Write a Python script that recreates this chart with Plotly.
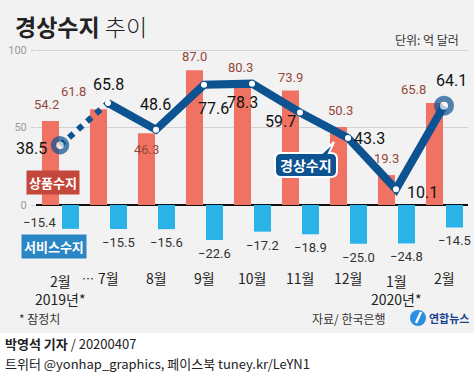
import plotly.graph_objects as go

# ---------------- data ----------------
months = ["2월", "7월", "8월", "9월", "10월", "11월", "12월", "1월", "2월"]
years = ["2019년*", "", "", "", "", "", "", "2020년*", ""]
goods = [54.2, 61.8, 46.3, 87.0, 80.3, 73.9, 50.3, 19.3, 65.8]          # 상품수지
services = [-15.4, -15.5, -15.6, -22.6, -17.2, -18.9, -25.0, -24.8, -14.5]  # 서비스수지
current = [38.5, 65.8, 48.6, 77.6, 78.3, 59.7, 43.3, 10.1, 64.1]        # 경상수지
y_ticks = [0, 50, 100]

# ---------------- style ----------------
W, H = 474, 381
ML, MR, MT, MB = 36, 6, 48, 128
PW, PH = W - ML - MR, H - MT - MB
SCALE, Y0PX = 1.55, 205          # px per unit, pixel row of zero line
Y_MAX = (Y0PX - MT) / SCALE
Y_MIN = -(H - MB - Y0PX) / SCALE
KR = "Noto Sans CJK KR"
NUM = "Roboto"
RED = "#f07262"
BLUE_BAR = "#2ab3e8"
LINE = "#0d5291"
BG = "#f2f2f2"

def px(x):
    return (x - ML) / PW

def py(y):
    return (MT + PH - y) / PH

idx = list(range(len(months)))

fig = go.Figure()
fig.add_trace(go.Bar(x=idx, y=goods, width=0.354, offset=-0.375,
                     marker=dict(color=RED, line=dict(width=0)), hoverinfo="skip"))
fig.add_trace(go.Bar(x=idx, y=services, width=0.354, offset=0.042,
                     marker=dict(color=BLUE_BAR, line=dict(width=0)), hoverinfo="skip"))
# dotted part (provisional first point)
fig.add_trace(go.Scatter(x=idx[:2], y=current[:2], mode="lines",
                         line=dict(color=LINE, width=6, dash="dot"), hoverinfo="skip"))
# solid part
fig.add_trace(go.Scatter(x=idx[1:], y=current[1:], mode="lines",
                         line=dict(color=LINE, width=8), hoverinfo="skip"))
# small white dots
fig.add_trace(go.Scatter(x=idx[1:-1], y=current[1:-1], mode="markers",
                         marker=dict(color="white", size=6, line=dict(width=0)), hoverinfo="skip"))
# end rings
fig.add_trace(go.Scatter(x=[idx[0], idx[-1]], y=[current[0], current[-1]], mode="markers",
                         marker=dict(color="white", size=[13, 14], line=dict(color=LINE, width=[5.5, 6])),
                         hoverinfo="skip"))

ann = []
# current account labels: (xanchor, yanchor, xshift, yshift)
cur_off = [("right", "middle", -11, -3), ("center", "bottom", 0, 7), ("center", "bottom", -1, 14),
           ("center", "top", 9, -12), ("center", "top", -10, -7), ("right", "middle", -2, -9),
           ("left", "middle", 4, -1), ("left", "middle", 9, -3), ("center", "bottom", 7, 14)]
for i, v in enumerate(current):
    xa, ya, xs, ys = cur_off[i]
    ann.append(dict(x=i, y=v, text=f"{v:.1f}", showarrow=False, xanchor=xa, yanchor=ya,
                    xshift=xs, yshift=ys, font=dict(family=NUM, size=16, color="#111")))
# goods labels
g_off = [("center", "bottom", -4, 7), ("right", "bottom", -11, 8), ("center", "top", 0, -7),
         ("center", "bottom", 0, 4), ("center", "bottom", -2, 4), ("center", "bottom", 0, 3),
         ("center", "bottom", 2, 7), ("center", "bottom", 0, 7), ("right", "bottom", -7, 4)]
for i, v in enumerate(goods):
    xa, ya, xs, ys = g_off[i]
    ann.append(dict(x=i - 0.198, y=v, text=f"{v:.1f}", showarrow=False, xanchor=xa, yanchor=ya,
                    xshift=xs, yshift=ys, font=dict(family=NUM, size=13, color="#94483a")))
# services labels
s_off = [("right", "middle", -13, 6)] + [("center", "top", 0, -4)] * 8
for i, v in enumerate(services):
    xa, ya, xs, ys = s_off[i]
    ann.append(dict(x=i + 0.219, y=v, text=f"\u2212{abs(v):.1f}", showarrow=False, xanchor=xa,
                    yanchor=ya, xshift=xs, yshift=ys, font=dict(family=NUM, size=13, color="#333")))

# category labels (month row + optional year row)
for i, (m, yr) in enumerate(zip(months, years)):
    if yr:
        ann.append(dict(x=i, y=py(279), yref="paper", text=f"{m}<br>{yr}", showarrow=False,
                        xanchor="center", yanchor="top", yshift=10,
                        font=dict(family=KR, size=14, color="#222")))
    else:
        ann.append(dict(x=i, y=py(278), yref="paper", text=m, showarrow=False, xanchor="center",
                        yanchor="middle", font=dict(family=KR, size=14, color="#222")))
# ellipsis between 2019-02 and 2019-07
ann.append(dict(x=0.5, y=py(278), yref="paper", text="⋯", showarrow=False, xanchor="center",
                yanchor="middle", xshift=4, font=dict(family=KR, size=12, color="#222")))

# legend boxes
ann.append(dict(x=px(53), y=py(183), xref="paper", yref="paper", text="<b>상품수지</b>",
                showarrow=False, bgcolor="#c4473b", borderpad=2, xanchor="center", yanchor="middle",
                font=dict(family=KR, size=13, color="white")))
ann.append(dict(x=px(54), y=py(246), xref="paper", yref="paper", text="<b>서비스수지</b>",
                showarrow=False, bgcolor="#2b86c6", borderpad=2, xanchor="center", yanchor="middle",
                font=dict(family=KR, size=13, color="white")))

# callout box for 경상수지
L, R, T, B, r = 275, 337, 153, 177, 6
def P(x, y):
    return f"{px(x):.5f},{py(y):.5f}"
path = (f"M {P(L + r, T)} L {P(322, T)} L {P(334, 142)} L {P(329, T)} L {P(R - r, T)} "
        f"Q {P(R, T)} {P(R, T + r)} L {P(R, B - r)} Q {P(R, B)} {P(R - r, B)} "
        f"L {P(L + r, B)} Q {P(L, B)} {P(L, B - r)} L {P(L, T + r)} Q {P(L, T)} {P(L + r, T)} Z")
shapes = [
    dict(type="rect", xref="paper", yref="paper", x0=px(-5), x1=px(W + 5), y0=py(333), y1=py(H + 5),
         fillcolor="white", line=dict(width=0), layer="below"),
    dict(type="path", xref="paper", yref="paper", path=path, fillcolor=LINE,
         line=dict(color="white", width=2), layer="above"),
    # logo icon
    dict(type="circle", xref="paper", yref="paper", x0=px(410), x1=px(426), y0=py(310), y1=py(326),
         fillcolor="#2a8fe0", line=dict(width=0), layer="above"),
    dict(type="line", xref="paper", yref="paper", x0=px(416), x1=px(421), y0=py(323), y1=py(312),
         line=dict(color="white", width=2.5), layer="above"),
]
ann.append(dict(x=px(306), y=py(165), xref="paper", yref="paper", text="<b>경상수지</b>",
                showarrow=False, xanchor="center", yanchor="middle",
                font=dict(family=KR, size=14, color="white")))

def ptext(x, y, text, size, color="#333", xa="left"):
    return dict(x=px(x), y=py(y), xref="paper", yref="paper", xanchor=xa, yanchor="middle",
                showarrow=False, text=text, font=dict(family=KR, size=size, color=color))

ann += [
    ptext(13, 26, "<b>경상수지</b> <span style='font-weight:300'>추이</span>", 23, "#222"),
    ptext(461, 40, "단위: 억 달러", 12, "#333", "right"),
    ptext(17, 318, "* 잠정치", 12),
    ptext(388, 318, "자료/ 한국은행", 12, "#333", "right"),
    ptext(427, 318, "<b>연합뉴스</b>", 11, "#1b3f8f"),
    ptext(3, 343, "<b>박영석 기자</b> / 20200407", 13, "#222"),
    ptext(3, 363, "트위터 @yonhap_graphics, 페이스북 tuney.kr/LeYN1", 13, "#222"),
]

fig.update_layout(
    width=W, height=H, margin=dict(l=ML, r=MR, t=MT, b=MB, pad=0),
    paper_bgcolor=BG, plot_bgcolor="rgba(0,0,0,0)",
    barmode="overlay", showlegend=False,
    annotations=ann, shapes=shapes,
    xaxis=dict(range=[-0.5, len(months) - 0.5], showticklabels=False,
               showgrid=False, zeroline=False, showline=False, ticks="", fixedrange=True),
    yaxis=dict(range=[Y_MIN, Y_MAX], tickvals=y_ticks, showgrid=True, gridcolor="#d2d2d2", gridwidth=1,
               zeroline=True, zerolinecolor="#111", zerolinewidth=1.5, showline=False,
               ticks="outside", ticklen=4, tickcolor="#d2d2d2", ticklabelstandoff=2,
               tickfont=dict(family=NUM, size=11, color="#9a9a9a"), fixedrange=True),
)

fig.write_html("out.html", config={"displayModeBar": False},
               post_script="document.body.style.margin='0';document.body.style.overflow='hidden';")
